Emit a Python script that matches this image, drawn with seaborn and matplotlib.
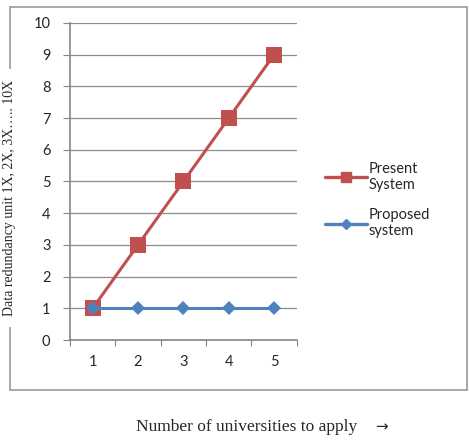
import matplotlib
matplotlib.use('Agg')
import matplotlib.pyplot as plt
import pandas as pd
import seaborn as sns
from matplotlib.lines import Line2D

# Data
universities = [1, 2, 3, 4, 5]
present_system = [1, 3, 5, 7, 9]
proposed_system = [1, 1, 1, 1, 1]
series_names = ['Present\nSystem', 'Proposed\nsystem']
y_ticks = list(range(0, 11))

df = pd.DataFrame({
    'x': universities * 2,
    'value': present_system + proposed_system,
    'series': [series_names[0]] * 5 + [series_names[1]] * 5,
})

sns.set_style('white')
plt.rcParams['font.family'] = ['Lato', 'DejaVu Sans']

fig = plt.figure(figsize=(4.69, 4.4), dpi=100)
ax = fig.add_axes([0.149, 0.227, 0.484, 0.721])

red = '#C0504D'
blue = '#4F81BD'

sns.lineplot(data=df, x='x', y='value', hue='series', style='series',
             palette=[red, blue], markers=['s', 'D'], dashes=False,
             markersize=9, linewidth=2.2, markeredgewidth=0,
             legend=False, ax=ax, zorder=3)
# marker sizes differ: bigger squares
for line, ms in zip(ax.lines, [11, 7.5]):
    line.set_markersize(ms)

ax.set_xlim(0.5, 5.5)
ax.set_ylim(0, 10)
ax.set_yticks(y_ticks)
ax.set_xticks([0.5, 1.5, 2.5, 3.5, 4.5, 5.5])
ax.set_xticklabels([])
ax.set_xticks(universities, minor=True)
ax.set_xticklabels([str(u) for u in universities], minor=True, fontsize=10.5)
ax.tick_params(axis='x', which='minor', length=0, pad=11)
ax.tick_params(axis='x', which='major', length=4, color='#868686', direction='out', bottom=True)
ax.tick_params(axis='y', length=5, color='#868686', direction='out', left=True, labelsize=10.5, pad=9)
ax.grid(axis='y', color='#8c8c8c', linewidth=0.9)
ax.set_axisbelow(True)
for side in ['top', 'right']:
    ax.spines[side].set_visible(False)
for side in ['left', 'bottom']:
    ax.spines[side].set_color('#868686')
    ax.spines[side].set_linewidth(1.2)
ax.set_xlabel('')
ax.set_ylabel('')

# outer frame
frame_kw = dict(color='#9a9a9a', linewidth=1.2, transform=fig.transFigure)
fig.add_artist(Line2D([0.021, 0.996], [0.985, 0.985], **frame_kw))
fig.add_artist(Line2D([0.996, 0.996], [0.985, 0.114], **frame_kw))
fig.add_artist(Line2D([0.021, 0.996], [0.114, 0.114], **frame_kw))
fig.add_artist(Line2D([0.021, 0.021], [0.985, 0.114], **frame_kw))

fig.text(0.021, 0.55, 'Data redundancy unit 1X, 2X, 3X….. 10X', rotation=90,
         ha='center', va='center', fontsize=10, family=['Liberation Serif', 'DejaVu Serif'],
         bbox=dict(facecolor='white', edgecolor='none', pad=8))
fig.text(0.29, 0.03, 'Number of universities to apply', ha='left', va='center',
         fontsize=12.5, family=['Liberation Serif', 'DejaVu Serif'])
fig.text(0.80, 0.03, '→', ha='left', va='center',
         fontsize=11, family=['DejaVu Sans'])

handles = [Line2D([], [], color=red, marker='s', markersize=7.5, linewidth=2.4),
           Line2D([], [], color=blue, marker='D', markersize=5.5, linewidth=2.4)]
fig.legend(handles, series_names, loc='center left', bbox_to_anchor=(0.693, 0.545),
           frameon=False, fontsize=10.5, handlelength=2.9, labelspacing=1.1,
           handletextpad=0.1, borderpad=0, borderaxespad=0)

fig.savefig('out.png', dpi=100)
